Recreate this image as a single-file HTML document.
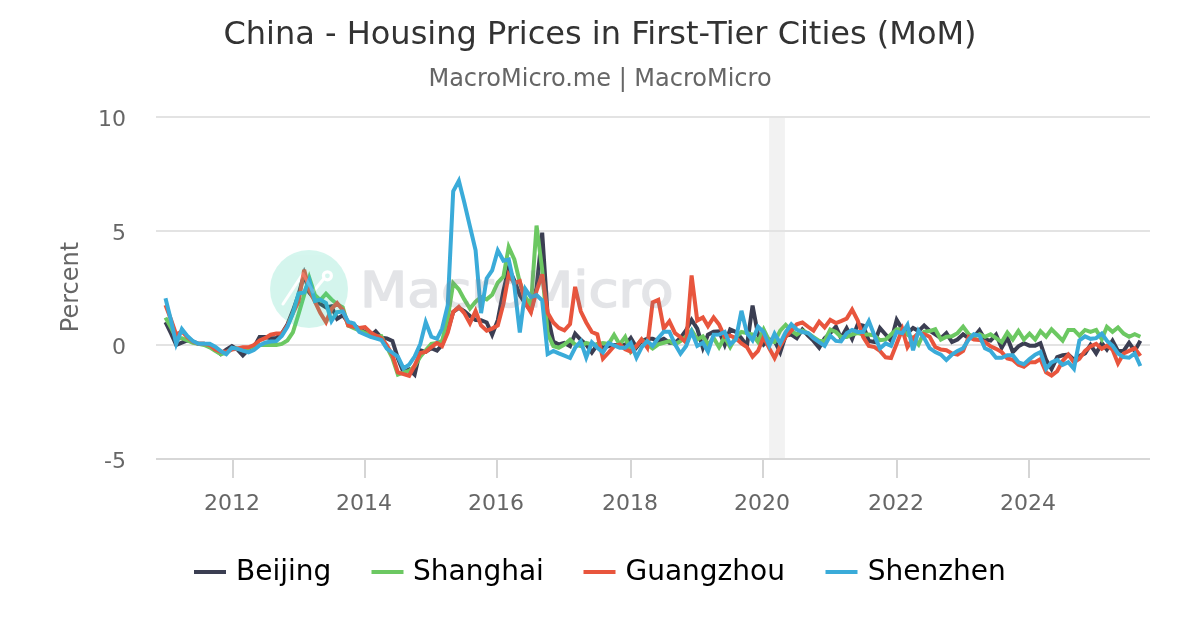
<!DOCTYPE html>
<html><head><meta charset="utf-8"><style>
html,body{margin:0;padding:0;background:#fff;width:1200px;height:630px;overflow:hidden}
svg{display:block;will-change:transform}
text{font-family:"DejaVu Sans","Liberation Sans",sans-serif}
</style></head><body>
<svg width="1200" height="630" viewBox="0 0 1200 630">
<rect width="1200" height="630" fill="#fff"/>
<text x="600" y="44" text-anchor="middle" font-size="32" fill="#333">China - Housing Prices in First-Tier Cities (MoM)</text>
<text x="600" y="86" text-anchor="middle" font-size="24" fill="#666">MacroMicro.me | MacroMicro</text>
<rect x="769.1" y="118" width="15.8" height="340" fill="#f2f2f2"/>
<g stroke="#e3e3e3" stroke-width="2">
<line x1="156" y1="117" x2="1150" y2="117"/>
<line x1="156" y1="231" x2="1150" y2="231"/>
<line x1="156" y1="345" x2="1150" y2="345"/>
</g>
<line x1="156" y1="459" x2="1150" y2="459" stroke="#d7d7d7" stroke-width="2"/>
<line x1="233" y1="460" x2="233" y2="478" stroke="#d5d5d5" stroke-width="2"/><line x1="365" y1="460" x2="365" y2="478" stroke="#d5d5d5" stroke-width="2"/><line x1="497" y1="460" x2="497" y2="478" stroke="#d5d5d5" stroke-width="2"/><line x1="631" y1="460" x2="631" y2="478" stroke="#d5d5d5" stroke-width="2"/><line x1="763" y1="460" x2="763" y2="478" stroke="#d5d5d5" stroke-width="2"/><line x1="897" y1="460" x2="897" y2="478" stroke="#d5d5d5" stroke-width="2"/><line x1="1029" y1="460" x2="1029" y2="478" stroke="#d5d5d5" stroke-width="2"/>
<g font-size="22" fill="#666"><text x="232" y="510" text-anchor="middle">2012</text><text x="364" y="510" text-anchor="middle">2014</text><text x="496" y="510" text-anchor="middle">2016</text><text x="630" y="510" text-anchor="middle">2018</text><text x="762" y="510" text-anchor="middle">2020</text><text x="896" y="510" text-anchor="middle">2022</text><text x="1028" y="510" text-anchor="middle">2024</text></g>
<g font-size="22" fill="#666" text-anchor="end">
<text x="126" y="126">10</text><text x="126" y="240">5</text><text x="126" y="354">0</text><text x="126" y="468">-5</text>
</g>
<text transform="translate(78,287) rotate(-90)" text-anchor="middle" font-size="24" fill="#666">Percent</text>

<polyline points="165.49,322.20 171.14,333.60 176.23,345.00 181.87,342.72 187.33,340.44 192.97,341.58 198.43,343.86 204.07,343.86 209.72,345.00 215.17,349.56 220.82,354.12 226.28,349.56 231.92,346.14 237.56,349.56 242.84,355.26 248.48,349.56 253.94,347.28 259.58,337.02 265.04,337.02 270.68,338.16 276.32,338.16 281.78,333.60 287.42,324.48 292.88,310.80 298.52,294.84 304.16,274.32 309.26,292.56 314.90,299.40 320.36,303.96 326.00,307.38 331.46,306.24 337.10,318.78 342.74,315.36 348.20,322.43 353.84,324.94 359.30,329.04 364.94,332.00 370.59,335.88 375.68,331.32 381.32,337.70 386.78,338.39 392.42,340.90 397.88,358.22 403.52,372.36 409.17,369.40 414.62,374.64 420.27,350.24 425.73,351.84 431.37,348.19 437.01,350.70 442.10,345.00 447.75,330.64 453.20,311.94 458.85,307.84 464.31,311.03 469.95,316.04 475.59,319.92 481.05,320.15 486.69,322.43 492.15,334.74 497.79,320.15 503.43,290.74 508.71,268.16 514.35,280.48 519.81,295.07 525.45,303.96 530.91,310.80 536.55,288.00 542.19,232.60 547.65,315.36 553.29,341.58 558.75,344.54 564.39,342.95 570.04,346.14 575.13,333.60 580.77,339.76 586.23,344.54 591.87,352.52 597.33,344.54 602.97,347.74 608.62,346.14 614.08,345.00 619.72,345.00 625.18,345.00 630.82,337.93 636.46,347.51 641.55,341.12 647.20,338.84 652.65,338.84 658.30,341.12 663.76,338.84 669.40,342.72 675.04,342.72 680.50,337.93 686.14,330.18 691.60,319.92 697.24,328.58 702.88,347.74 707.98,334.74 713.62,331.78 719.08,331.32 724.72,345.00 730.18,329.50 735.82,332.00 741.46,338.16 746.92,345.91 752.56,305.56 758.02,334.51 763.66,344.54 769.30,339.53 774.58,340.90 780.22,352.30 785.68,335.65 791.32,334.51 796.78,338.16 802.42,329.50 808.07,335.65 813.53,340.90 819.17,347.74 824.63,338.16 830.27,333.14 835.91,326.76 841.00,338.16 846.65,328.13 852.10,338.84 857.75,324.25 863.21,325.62 868.85,340.90 874.49,342.04 879.95,328.13 885.59,334.51 891.05,340.90 896.69,319.92 902.33,329.27 907.43,333.14 913.07,327.90 918.53,331.09 924.17,325.62 929.63,330.64 935.27,334.28 940.91,338.16 946.37,333.14 952.01,342.04 957.47,339.53 963.11,334.28 968.75,338.16 973.85,337.02 979.49,330.18 984.95,339.53 990.59,340.67 996.05,334.74 1001.69,347.74 1007.33,337.48 1012.79,352.07 1018.43,346.37 1023.89,343.18 1029.54,345.68 1035.18,345.68 1040.45,343.18 1046.10,359.82 1051.55,368.94 1057.20,357.08 1062.66,355.26 1068.30,354.58 1073.94,359.82 1079.40,355.94 1085.04,353.44 1090.50,345.00 1096.14,353.44 1101.78,343.18 1106.88,349.56 1112.52,340.67 1117.98,350.93 1123.62,350.93 1129.08,342.72 1134.72,350.93 1140.36,340.67" fill="none" stroke="#3b3e52" stroke-width="4" stroke-linejoin="miter" stroke-miterlimit="4"/>
<polyline points="165.49,317.64 171.14,327.90 176.23,338.16 181.87,338.16 187.33,340.44 192.97,342.72 198.43,343.86 204.07,345.00 209.72,347.28 215.17,350.70 220.82,354.12 226.28,352.98 231.92,348.42 237.56,348.42 242.84,349.56 248.48,348.42 253.94,346.14 259.58,345.00 265.04,345.00 270.68,345.00 276.32,345.00 281.78,343.86 287.42,340.44 292.88,332.46 298.52,314.22 304.16,294.84 309.26,277.74 314.90,294.84 320.36,300.08 326.00,293.70 331.46,299.40 337.10,304.19 342.74,307.38 348.20,325.62 353.84,328.13 359.30,330.41 364.94,332.92 370.59,335.20 375.68,336.79 381.32,336.11 386.78,347.05 392.42,358.22 397.88,374.64 403.52,372.36 409.17,370.99 414.62,366.20 420.27,356.63 425.73,350.24 431.37,343.86 437.01,342.95 442.10,340.90 447.75,318.10 453.20,283.21 458.85,289.37 464.31,299.40 469.95,308.52 475.59,301.68 481.05,297.12 486.69,299.40 492.15,294.84 497.79,282.53 503.43,276.60 508.71,246.96 514.35,259.50 519.81,282.53 525.45,297.12 530.91,305.33 536.55,225.53 542.19,269.76 547.65,333.60 553.29,346.14 558.75,347.74 564.39,344.54 570.04,339.76 575.13,344.54 580.77,346.14 586.23,342.95 591.87,344.54 597.33,344.54 602.97,342.95 608.62,343.86 614.08,334.97 619.72,344.54 625.18,337.02 630.82,351.84 636.46,345.91 641.55,339.53 647.20,344.32 652.65,348.42 658.30,344.32 663.76,342.72 669.40,341.12 675.04,344.32 680.50,341.12 686.14,336.34 691.60,330.18 697.24,339.53 702.88,336.34 707.98,344.32 713.62,337.93 719.08,347.28 724.72,337.02 730.18,347.05 735.82,337.02 741.46,332.00 746.92,333.14 752.56,334.51 758.02,342.04 763.66,329.50 769.30,340.90 774.58,342.04 780.22,330.64 785.68,324.94 791.32,330.64 796.78,334.51 802.42,330.64 808.07,333.14 813.53,337.02 819.17,340.90 824.63,340.90 830.27,329.50 835.91,332.00 841.00,337.02 846.65,337.02 852.10,334.51 857.75,333.14 863.21,334.51 868.85,334.51 874.49,335.65 879.95,340.21 885.59,339.53 891.05,334.51 896.69,329.27 902.33,329.27 907.43,334.74 913.07,338.16 918.53,344.54 924.17,331.78 929.63,331.09 935.27,329.27 940.91,339.53 946.37,336.79 952.01,336.34 957.47,333.14 963.11,326.76 968.75,334.28 973.85,336.79 979.49,334.28 984.95,336.79 990.59,334.28 996.05,338.16 1001.69,342.04 1007.33,332.46 1012.79,339.53 1018.43,330.86 1023.89,339.53 1029.54,333.60 1035.18,339.53 1040.45,331.09 1046.10,336.79 1051.55,329.27 1057.20,334.97 1062.66,340.67 1068.30,329.95 1073.94,329.95 1079.40,335.65 1085.04,329.95 1090.50,331.78 1096.14,329.95 1101.78,339.30 1106.88,326.76 1112.52,331.78 1117.98,327.44 1123.62,333.60 1129.08,336.79 1134.72,334.28 1140.36,336.79" fill="none" stroke="#6cc862" stroke-width="4" stroke-linejoin="miter" stroke-miterlimit="4"/>
<polyline points="165.49,305.10 171.14,319.92 176.23,334.74 181.87,331.32 187.33,337.02 192.97,341.58 198.43,343.86 204.07,343.86 209.72,345.00 215.17,349.56 220.82,351.84 226.28,351.84 231.92,349.56 237.56,348.42 242.84,347.28 248.48,347.28 253.94,345.00 259.58,340.44 265.04,338.16 270.68,334.74 276.32,333.60 281.78,333.60 287.42,325.62 292.88,313.08 298.52,301.68 304.16,269.76 309.26,290.28 314.90,301.68 320.36,313.08 326.00,322.20 331.46,308.98 337.10,303.05 342.74,309.89 348.20,325.62 353.84,326.76 359.30,327.90 364.94,327.22 370.59,332.46 375.68,335.42 381.32,338.16 386.78,345.00 392.42,355.26 397.88,372.36 403.52,374.18 409.17,375.78 414.62,365.52 420.27,352.98 425.73,351.84 431.37,347.05 437.01,342.95 442.10,346.14 447.75,332.69 453.20,311.94 458.85,306.92 464.31,313.08 469.95,323.34 475.59,311.03 481.05,325.39 486.69,330.64 492.15,328.58 497.79,325.39 503.43,303.73 508.71,274.78 514.35,283.21 519.81,281.16 525.45,303.28 530.91,312.40 536.55,290.74 542.19,274.32 547.65,312.85 553.29,322.43 558.75,327.90 564.39,330.41 570.04,324.02 575.13,286.86 580.77,311.26 586.23,322.43 591.87,332.00 597.33,334.28 602.97,358.68 608.62,352.52 614.08,346.14 619.72,344.54 625.18,349.33 630.82,351.61 636.46,345.91 641.55,339.30 647.20,347.51 652.65,302.36 658.30,299.86 663.76,328.58 669.40,321.29 675.04,333.14 680.50,337.25 686.14,342.72 691.60,275.46 697.24,320.60 702.88,317.41 707.98,326.08 713.62,317.41 719.08,324.48 724.72,337.02 730.18,335.65 735.82,338.16 741.46,343.40 746.92,347.05 752.56,356.63 758.02,350.93 763.66,337.02 769.30,348.42 774.58,358.00 780.22,345.91 785.68,337.02 791.32,330.64 796.78,324.25 802.42,322.43 808.07,326.76 813.53,330.64 819.17,321.74 824.63,327.44 830.27,319.92 835.91,323.11 841.00,321.06 846.65,318.55 852.10,309.66 857.75,320.60 863.21,337.02 868.85,345.91 874.49,347.05 879.95,350.93 885.59,357.31 891.05,358.00 896.69,343.86 902.33,329.27 907.43,347.05 913.07,338.16 918.53,333.14 924.17,334.28 929.63,336.79 935.27,347.05 940.91,349.56 946.37,350.24 952.01,353.44 957.47,354.58 963.11,350.93 968.75,336.79 973.85,339.53 979.49,339.98 984.95,342.04 990.59,346.37 996.05,348.88 1001.69,352.07 1007.33,358.45 1012.79,359.82 1018.43,364.84 1023.89,366.66 1029.54,362.33 1035.18,362.33 1040.45,359.14 1046.10,372.36 1051.55,375.55 1057.20,371.22 1062.66,360.96 1068.30,354.58 1073.94,362.33 1079.40,358.68 1085.04,350.93 1090.50,346.37 1096.14,343.86 1101.78,348.88 1106.88,345.68 1112.52,349.56 1117.98,363.47 1123.62,353.44 1129.08,350.93 1134.72,348.19 1140.36,355.94" fill="none" stroke="#e8553d" stroke-width="4" stroke-linejoin="miter" stroke-miterlimit="4"/>
<polyline points="165.49,298.26 171.14,321.06 176.23,343.86 181.87,329.04 187.33,335.88 192.97,341.12 198.43,343.86 204.07,343.86 209.72,343.86 215.17,346.60 220.82,351.16 226.28,354.12 231.92,347.74 237.56,348.88 242.84,350.70 248.48,352.30 253.94,350.02 259.58,345.46 265.04,342.72 270.68,341.58 276.32,341.12 281.78,335.88 287.42,326.76 292.88,313.31 298.52,293.47 304.16,292.56 309.26,280.02 314.90,301.00 320.36,299.63 326.00,303.05 331.46,321.06 337.10,312.17 342.74,311.48 348.20,321.74 353.84,323.34 359.30,332.00 364.94,334.51 370.59,336.79 375.68,338.39 381.32,339.98 386.78,348.65 392.42,352.75 397.88,356.63 403.52,368.48 409.17,364.61 414.62,356.63 420.27,344.09 425.73,322.20 431.37,336.79 437.01,338.84 442.10,328.58 447.75,305.10 453.20,191.33 458.85,180.84 464.31,202.50 469.95,226.44 475.59,250.38 481.05,313.08 486.69,278.42 492.15,270.44 497.79,250.38 503.43,260.64 508.71,259.50 514.35,285.72 519.81,332.46 525.45,289.14 530.91,297.12 536.55,295.07 542.19,300.54 547.65,354.12 553.29,350.93 558.75,353.44 564.39,355.72 570.04,358.00 575.13,347.74 580.77,341.35 586.23,357.54 591.87,342.26 597.33,347.74 602.97,352.52 608.62,342.95 614.08,345.46 619.72,347.74 625.18,347.74 630.82,342.95 636.46,357.54 641.55,347.51 647.20,341.12 652.65,345.91 658.30,337.93 663.76,331.78 669.40,331.78 675.04,344.32 680.50,353.66 686.14,345.91 691.60,331.78 697.24,345.91 702.88,342.72 707.98,351.61 713.62,334.74 719.08,334.51 724.72,332.00 730.18,344.54 735.82,339.53 741.46,310.80 746.92,333.14 752.56,340.21 758.02,326.76 763.66,332.00 769.30,345.91 774.58,333.60 780.22,343.18 785.68,332.00 791.32,324.25 796.78,329.50 802.42,332.00 808.07,333.14 813.53,338.16 819.17,342.04 824.63,345.91 830.27,335.65 835.91,340.90 841.00,341.35 846.65,333.14 852.10,329.95 857.75,332.00 863.21,332.00 868.85,321.06 874.49,335.65 879.95,348.42 885.59,343.40 891.05,345.91 896.69,331.78 902.33,333.14 907.43,324.94 913.07,350.24 918.53,330.64 924.17,338.16 929.63,348.19 935.27,352.07 940.91,354.58 946.37,360.05 952.01,354.58 957.47,350.93 963.11,348.19 968.75,339.53 973.85,334.28 979.49,335.65 984.95,348.19 990.59,350.93 996.05,357.77 1001.69,357.77 1007.33,355.26 1012.79,355.26 1018.43,362.33 1023.89,364.15 1029.54,359.14 1035.18,354.58 1040.45,352.07 1046.10,368.71 1051.55,362.33 1057.20,359.82 1062.66,364.84 1068.30,362.10 1073.94,368.71 1079.40,340.44 1085.04,336.34 1090.50,338.84 1096.14,338.16 1101.78,333.60 1106.88,340.67 1112.52,345.68 1117.98,353.44 1123.62,357.08 1129.08,357.77 1134.72,353.44 1140.36,365.98" fill="none" stroke="#3aabd9" stroke-width="4" stroke-linejoin="miter" stroke-miterlimit="4"/>
<g opacity="0.2">
<circle cx="309" cy="289" r="39" fill="#2dd2aa"/>
<polyline points="283,304 303,273.5 313,292 324,278.5" fill="none" stroke="#fff" stroke-width="3" stroke-linecap="round" stroke-linejoin="round"/>
<circle cx="327.4" cy="275.8" r="4" fill="none" stroke="#fff" stroke-width="3.2"/>
<text x="360" y="307" font-size="49.5" textLength="313.5" lengthAdjust="spacingAndGlyphs" font-weight="normal" fill="#787d8c" stroke="#787d8c" stroke-width="1.6" stroke-linejoin="round" style="font-family:'DejaVu Sans',sans-serif">MacroMicro</text>
</g>
<g font-size="28" fill="#000">
<line x1="194" y1="572" x2="226" y2="572" stroke="#3b3e52" stroke-width="4"/><text x="236" y="580">Beijing</text>
<line x1="371.5" y1="572" x2="403.5" y2="572" stroke="#6cc862" stroke-width="4"/><text x="413" y="580">Shanghai</text>
<line x1="583.5" y1="572" x2="615.5" y2="572" stroke="#e8553d" stroke-width="4"/><text x="625.5" y="580">Guangzhou</text>
<line x1="825.5" y1="572" x2="857.5" y2="572" stroke="#3aabd9" stroke-width="4"/><text x="867.8" y="580">Shenzhen</text>
</g>
</svg>
</body></html>
